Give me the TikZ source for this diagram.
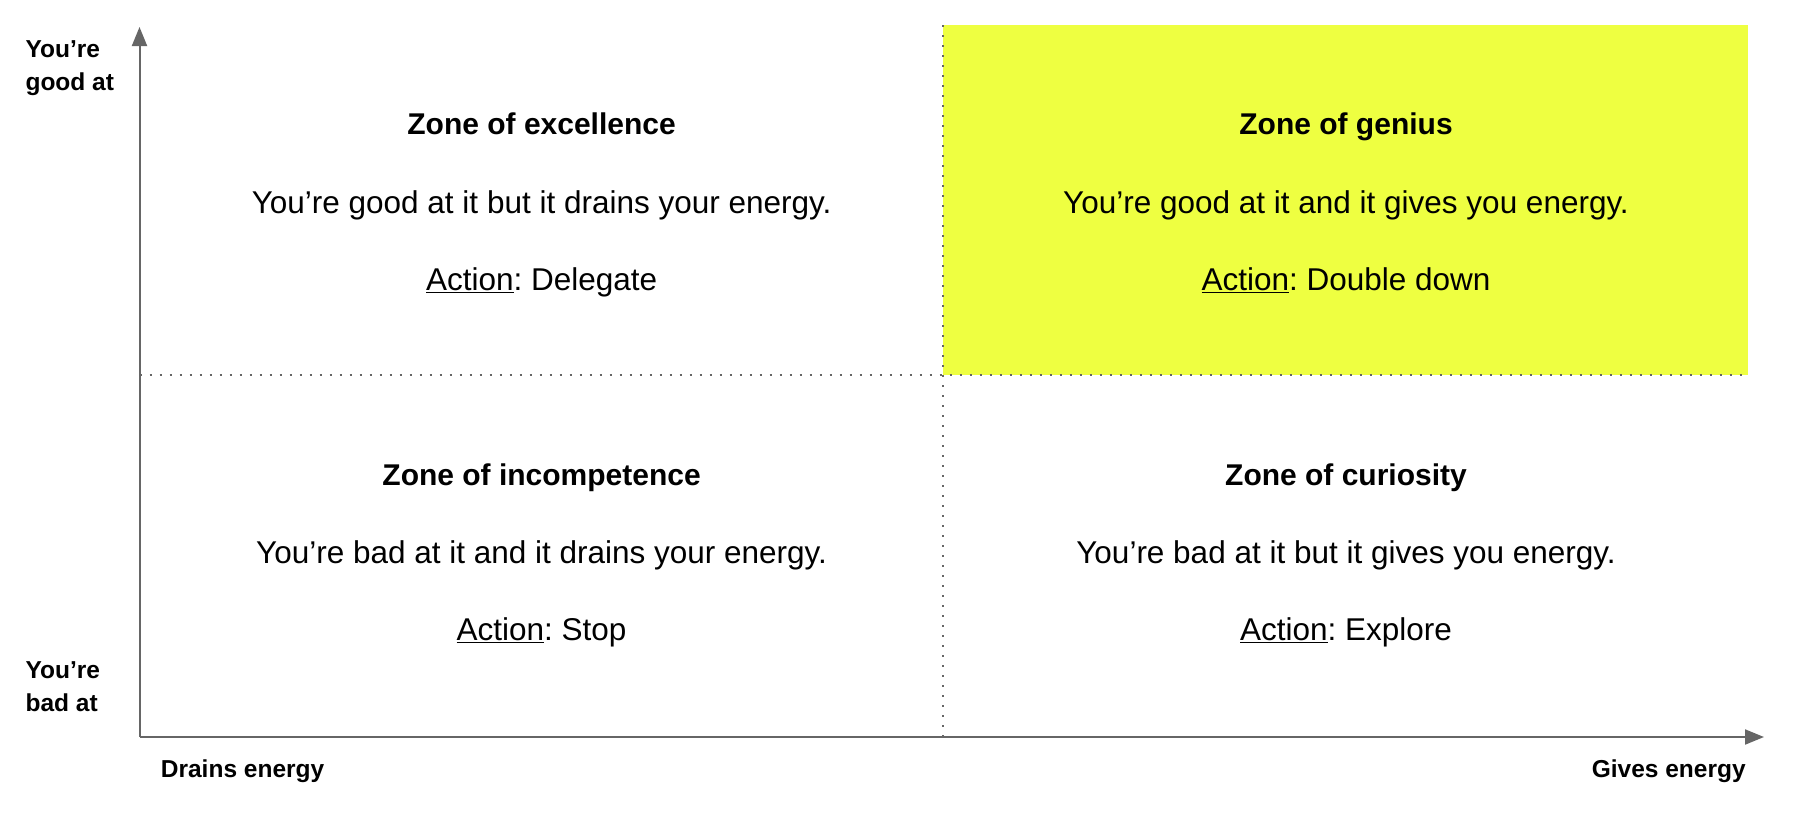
\documentclass[tikz,border=0pt]{standalone}
\usepackage{fontspec}
\setmainfont{Liberation Sans}
\usetikzlibrary{arrows.meta}
\definecolor{genius}{RGB}{238,255,65}
\definecolor{axisgray}{RGB}{102,102,102}
\frenchspacing
\begin{document}
\begin{tikzpicture}[x=1pt, y=-1pt,
	zonetitle/.style={font=\fontsize{30}{36}\selectfont\bfseries, text height=0.75em, text depth=0.25em},
	zonetext/.style={font=\fontsize{31.5}{38}\selectfont, text height=0.75em, text depth=0.25em},
	axislabel/.style={font=\fontsize{24.5}{33}\selectfont\bfseries},
	axisline/.style={draw=axisgray, line width=2pt, -{Triangle[length=19pt, width=15pt]}},
	gridline/.style={draw=axisgray, line width=2pt, dash pattern=on 2pt off 8pt}]
		\useasboundingbox (0,0) rectangle (1807,812);
		
		\fill [genius] (943,25) rectangle (1748,375);
		
		\coordinate (origin) at (139.5,737);
		\coordinate (ytop) at (139.5,27);
		\coordinate (xend) at (1764,737);
		\coordinate (midtop) at (943,25);
		\coordinate (midbottom) at (943,737);
		\coordinate (midleft) at (139.5,375);
		\coordinate (midright) at (1748,375);
		
		\draw [gridline] (midtop) -- (midbottom);
		\draw [gridline] (midleft) -- (midright);
		\draw [axisline] (origin) -- (ytop);
		\draw [axisline] (origin) -- (xend);
		
		% top left
		\node (excellence) [zonetitle] at (541.6,132) {Zone of excellence};
		\node (excellencetext) [zonetext] at (541.6,210.5) {You’re good at it but it drains your energy.};
		\node (excellenceaction) [zonetext] at (541.6,288) {\underline{Action}: Delegate};
		
		% top right
		\node (genius) [zonetitle] at (1346,132) {Zone of genius};
		\node (geniustext) [zonetext] at (1346,210.5) {You’re good at it and it gives you energy.};
		\node (geniusaction) [zonetext] at (1346,288) {\underline{Action}: Double down};
		
		% bottom left
		\node (incompetence) [zonetitle] at (541.6,483) {Zone of incompetence};
		\node (incompetencetext) [zonetext] at (541.6,561) {You’re bad at it and it drains your energy.};
		\node (incompetenceaction) [zonetext] at (541.6,638) {\underline{Action}: Stop};
		
		% bottom right
		\node (curiosity) [zonetitle] at (1346,483) {Zone of curiosity};
		\node (curiositytext) [zonetext] at (1346,561) {You’re bad at it but it gives you energy.};
		\node (curiosityaction) [zonetext] at (1346,638) {\underline{Action}: Explore};
		
		% axis labels
		\node (goodat) [axislabel, align=left, anchor=west] at (22,68) {You’re\\good at};
		\node (badat) [axislabel, align=left, anchor=west] at (22,687) {You’re\\bad at};
		\node (drains) [axislabel] at (242.6,771) {Drains energy};
		\node (gives) [axislabel] at (1668.7,771) {Gives energy};
		
		\end{tikzpicture}
\end{document}
